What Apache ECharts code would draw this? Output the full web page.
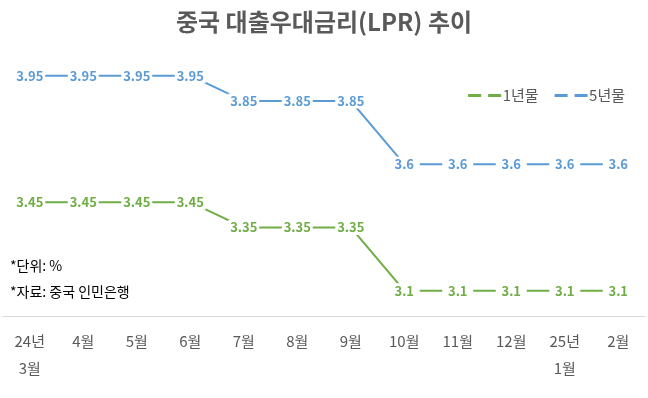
<!DOCTYPE html>
<html>
<head>
<meta charset="utf-8">
<script src="https://cdn.jsdelivr.net/npm/echarts@6/dist/echarts.min.js"></script>
<style>html,body{margin:0;padding:0;background:#fff}#c{width:648px;height:398px}</style>
</head>
<body>
<div id="c"></div>
<script>
const categories = ['24년\n3월','4월','5월','6월','7월','8월','9월','10월','11월','12월','25년\n1월','2월'];
const lpr1y = [3.45,3.45,3.45,3.45,3.35,3.35,3.35,3.1,3.1,3.1,3.1,3.1];
const lpr5y = [3.95,3.95,3.95,3.95,3.85,3.85,3.85,3.6,3.6,3.6,3.6,3.6];
const seriesNames = ['1년물','5년물'];
const notes = ['*단위: %','*자료: 중국 인민은행'];
const titleText = '중국 대출우대금리(LPR) 추이';

const FONT = '"Noto Sans CJK KR", "Noto Sans", sans-serif';
const chart = echarts.init(document.getElementById('c'), null, {renderer:'canvas'});
const dashIcon = 'path://M0,0H13V3H0Z M20,0H33V3H20Z';
function lineSeries(name, data, color){
  return {
    name, type:'line', data,
    symbol:'circle', symbolSize:0.01, showSymbol:true,
    lineStyle:{color, width:2},
    itemStyle:{color},
    label:{
      show:true, position:'inside', color,
      fontFamily:FONT, fontWeight:'bold', fontSize:13,
      backgroundColor:'#fff', padding:[1,0], width:31, align:'center',
      formatter:p=>String(p.value)
    },
    emphasis:{disabled:true},
    z:2
  };
}
chart.setOption({
  animation:false,
  backgroundColor:'#fff',
  title:{text:titleText, left:'center', top:5,
    textStyle:{fontFamily:FONT, fontWeight:'bold', fontSize:24, color:'#595959'}},
  legend:{right:18, top:83, itemWidth:34, itemHeight:3, itemGap:16,
    icon:dashIcon,
    textStyle:{fontFamily:FONT, fontSize:15, color:'#595959', padding:[0,0,0,-4]},
    data:seriesNames},
  grid:{left:3, right:3, top:63, bottom:82, containLabel:false},
  xAxis:{type:'category', data:categories, boundaryGap:true,
    axisLine:{lineStyle:{color:'#D9D9D9', width:1}},
    axisTick:{show:false},
    axisLabel:{fontFamily:FONT, fontSize:15, color:'#595959', lineHeight:27, margin:12, interval:0}},
  yAxis:{type:'value', min:3, max:4, show:false, splitLine:{show:false}},
  series:[lineSeries(seriesNames[0], lpr1y, '#70AD47'), lineSeries(seriesNames[1], lpr5y, '#5B9BD5')],
  graphic:[
    {type:'text', left:10, top:259, style:{text:notes[0], font:'14px '+FONT, fill:'#000'}},
    {type:'text', left:10, top:285, style:{text:notes[1], font:'14px '+FONT, fill:'#000'}}
  ]
});
</script>
</body>
</html>
